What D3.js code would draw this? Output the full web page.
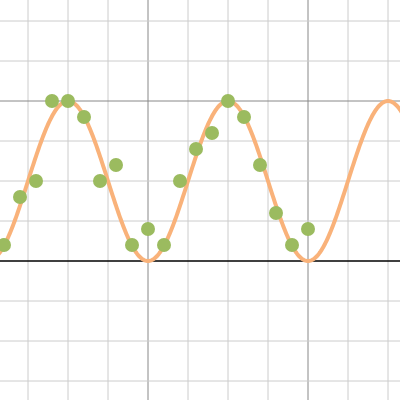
<!DOCTYPE html>
<html><head><meta charset="utf-8">
<script src="https://cdn.jsdelivr.net/npm/d3@7"></script>
<style>body{margin:0;background:#fff}</style>
</head><body>
<svg id="chart" width="400" height="400"></svg>
<script>
// sample points (x, y)
const pts_x = [-9,-8,-7,-6,-5,-4,-3,-2,-1,0,1,2,3,4,5,6,7,8,9,10]
const pts_y = [1,4,5,10,10,9,5,6,1,2,1,5,7,8,10,9,6,3,1,2]
// fitted curve y = 5 - 5cos(2*pi*x/10)
const amp = 5, mid = 5, period = 10

const width = 400, height = 400
const x = d3.scaleLinear().domain([-148/16, (400-148)/16]).range([0, width])
const y = d3.scaleLinear().domain([261/16, (261-400)/16]).range([0, height])
const svg = d3.select("#chart")

// grid, minor every 2.5 units, major every 10
const gx = d3.range(-10, 17.5, 2.5)
const gy = d3.range(-10, 17.5, 2.5)
svg.selectAll(".vx").data(gx).enter().append("line")
  .attr("x1", d => x(d)).attr("x2", d => x(d)).attr("y1", 0).attr("y2", height)
  .attr("stroke", d => d % 10 == 0 ? "#888" : "#ccc").attr("stroke-width", 1)
svg.selectAll(".hy").data(gy).enter().append("line")
  .attr("y1", d => y(d)).attr("y2", d => y(d)).attr("x1", 0).attr("x2", width)
  .attr("stroke", d => d == 0 ? "#000" : (d % 10 == 0 ? "#888" : "#ccc"))
  .attr("stroke-width", d => d == 0 ? 1.5 : 1)

const line = d3.line().x(d => x(d)).y(d => y(mid - amp*Math.cos(2*Math.PI*d/period)))
svg.append("path").datum(d3.range(-10, 16, 0.05))
  .attr("d", line).attr("fill", "none")
  .attr("stroke", "#f9b27a").attr("stroke-width", 4)

svg.selectAll(".dot").data(pts_x).enter().append("circle")
  .attr("cx", d => x(d)).attr("cy", (d, i) => y(pts_y[i]))
  .attr("r", 7).attr("fill", "#9bbb5f")
</script>
</body></html>
